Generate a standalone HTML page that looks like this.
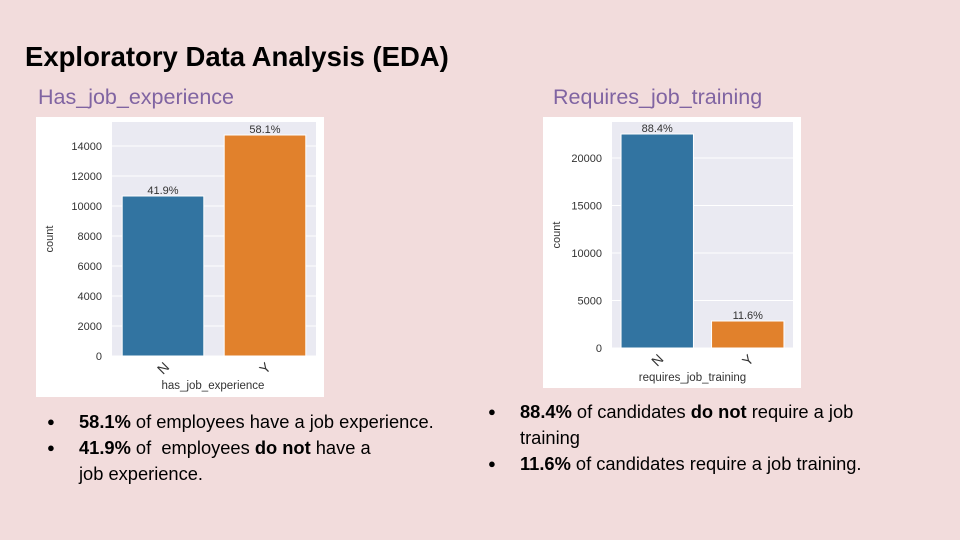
<!DOCTYPE html>
<html><head><meta charset="utf-8"><style>
body{margin:0;width:960px;height:540px;background:#f2dcdc;font-family:"Liberation Sans",Arial,sans-serif;position:relative;overflow:hidden}
.abs{position:absolute}
h1{position:absolute;left:25px;top:41px;margin:0;font-size:27.5px;font-weight:bold;color:#000}
.sub{position:absolute;color:#8064a2;font-size:21.5px}
ul{position:absolute;margin:0;padding:0;list-style:none;font-size:18.3px;color:#000;line-height:26px}
li{position:relative;padding-left:32px}
li:before{content:"●";position:absolute;left:0;font-size:13px}
</style></head><body>
<h1>Exploratory Data Analysis (EDA)</h1>
<div class="sub" style="left:38px;top:85px">Has_job_experience</div>
<div class="sub" style="left:553px;top:85px">Requires_job_training</div>
<svg class="abs" style="left:0;top:0" width="960" height="540">
<rect x="36" y="117" width="288" height="280" fill="#fff"/>
<rect x="543" y="117" width="258" height="271" fill="#fff"/>
<g id="c1"></g>
<g id="c2"></g>
</svg>
<ul style="left:47px;top:409px;width:440px">
<li><b>58.1%</b> of employees have a job experience.</li>
<li><b>41.9%</b> of &nbsp;employees <b>do not</b> have a<br>job experience.</li>
</ul>
<ul style="left:488px;top:399px;width:440px">
<li><b>88.4%</b> of candidates <b>do not</b> require a job<br>training</li>
<li><b>11.6%</b> of candidates require a job training.</li>
</ul>
<script>
const cats = ["N","Y"];
const expValues = [10667,14733];
const expLabels = ["41.9%","58.1%"];
const expTicks = [0,2000,4000,6000,8000,10000,12000,14000];
const trnValues = [22526,2842];
const trnLabels = ["88.4%","11.6%"];
const trnTicks = [0,5000,10000,15000,20000];
const colors = ["#3274a1","#e1812c"];
const NS="http://www.w3.org/2000/svg";
function mk(p,t,a){const e=document.createElementNS(NS,t);for(const k in a)e.setAttribute(k,a[k]);p.appendChild(e);return e;}
function draw(g,cfg){
  const {x0,x1,y0,y1,max,vals,labels,ticks,xlabel}=cfg;
  const bg=mk(g,"rect",{x:x0,y:y1,width:x1-x0,height:y0-y1,fill:"#eaeaf2"});
  
  
  const ys=v=>y0-(v/max)*(y0-y1);
  ticks.forEach(t=>{
    const l=mk(g,"line",{x1:x0,x2:x1,y1:ys(t),y2:ys(t),stroke:"#fff","stroke-width":1});
    
    
    const tx=mk(g,"text",{x:x0-10,y:ys(t)+4,"text-anchor":"end","font-size":"11",fill:"#333"});
    tx.textContent=t;
    
    
  });
  const bw=(x1-x0)/cats.length;
  cats.forEach((c,i)=>{
    const bx=x0+bw*i+bw*0.1, w=bw*0.8;
    const r=mk(g,"rect",{x:bx,y:ys(vals[i]),width:w,height:y0-ys(vals[i]),fill:colors[i],stroke:"#fff","stroke-width":1});
    
    
    const lt=mk(g,"text",{x:bx+w/2,y:ys(vals[i])-2,"text-anchor":"middle","font-size":"11",fill:"#333"});
    lt.textContent=labels[i];
    
    
    const cx=bx+w/2;
    const xt=mk(g,"text",{x:cx,y:y0+17,"text-anchor":"middle","font-size":"14",fill:"#333",transform:`rotate(-45 ${cx} ${y0+12})`});
    xt.textContent=c;
    
    
  });
  const xl=mk(g,"text",{x:(x0+x1)/2+(cfg.xoff||0),y:y0+33,"text-anchor":"middle","font-size":"11.5",fill:"#333"});
  xl.textContent=xlabel;
  
  
  const yl=mk(g,"text",{x:cfg.ylx,y:(y0+y1)/2,"text-anchor":"middle","font-size":"11",fill:"#333",transform:`rotate(-90 ${cfg.ylx} ${(y0+y1)/2})`});
  yl.textContent="count";
  
  
}
draw(document.getElementById("c1"),{x0:112,x1:316,y0:356,y1:122,max:15600,vals:expValues,labels:expLabels,ticks:expTicks,xlabel:"has_job_experience",ylx:53,xoff:-1});
draw(document.getElementById("c2"),{x0:612,x1:793,y0:348,y1:122,max:23789,vals:trnValues,labels:trnLabels,ticks:trnTicks,xlabel:"requires_job_training",ylx:560,xoff:-10});
</script>
</body></html>
